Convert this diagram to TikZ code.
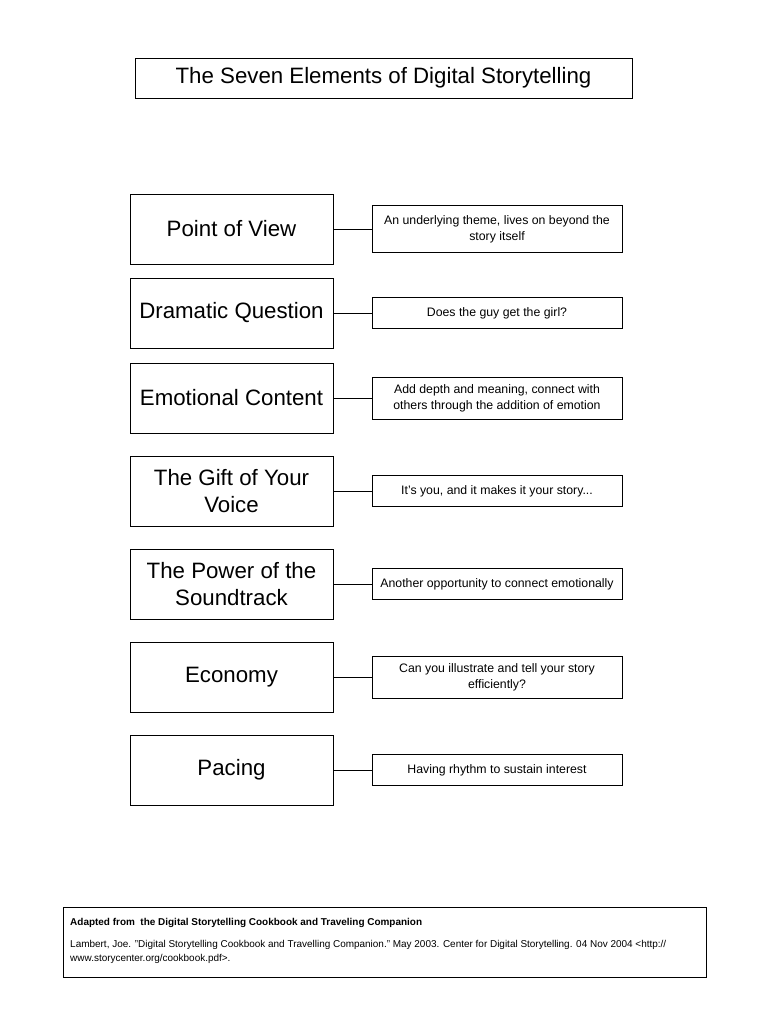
\documentclass[tikz,border=0pt]{standalone}
\usepackage{fontspec}
\setmainfont{Liberation Sans}
\usepackage{tikz}
\usetikzlibrary{shadows}

\begin{document}
\begin{tikzpicture}[
  x=0.03cm, y=-0.03cm,
  every node/.style={align=center},
  line/.style={-, line width=0.5pt},
  shade/.style={drop shadow={shadow xshift=0.8pt, shadow yshift=-0.8pt, opacity=1, fill=black!85}},
  element/.style={draw, fill=white, line width=0.7pt, shade, minimum width=6.09cm, minimum height=2.1cm, font=\fontsize{19}{23}\selectfont},
  note/.style={draw, fill=white, line width=0.5pt, minimum width=7.5cm, font=\fontsize{10.5}{13.7}\selectfont},
  heading/.style={draw, fill=white, line width=0.7pt, shade, minimum width=14.91cm, minimum height=1.2cm, font=\fontsize{19}{23}\selectfont},
]
\useasboundingbox (0,0) rectangle (768,1024);

% Title
\node[heading] (title) at (383.5,78) {The Seven Elements of Digital Storytelling};

% Element nodes (left side)
\node[element] (pov) at (231.5,229) {Point of View};
\node[element] (dq) at (231.5,313) {Dramatic Question};
\node[element] (ec) at (231.5,398) {Emotional Content};
\node[element] (gift) at (231.5,491) {The Gift of Your\\Voice};
\node[element] (sound) at (231.5,584) {The Power of the\\Soundtrack};
\node[element] (eco) at (231.5,677) {Economy};
\node[element] (pace) at (231.5,770) {Pacing};

% Description nodes (right side)
\node[note, minimum height=1.41cm] (povd) at (497,229) {An underlying theme, lives on beyond the\\story itself};
\node[note, minimum height=0.93cm] (dqd) at (497,313) {Does the guy get the girl?};
\node[note, minimum height=1.26cm] (ecd) at (497,398) {Add depth and meaning, connect with\\others through the addition of emotion};
\node[note, minimum height=0.93cm] (giftd) at (497,491) {It's you, and it makes it your story...};
\node[note, minimum height=0.93cm] (soundd) at (497,584) {Another opportunity to connect emotionally};
\node[note, minimum height=1.26cm] (ecod) at (497,677) {Can you illustrate and tell your story\\efficiently?};
\node[note, minimum height=0.93cm] (paced) at (497,770) {Having rhythm to sustain interest};

% Connectors
\draw[line] (pov.east) -- (povd.west);
\draw[line] (dq.east) -- (dqd.west);
\draw[line] (ec.east) -- (ecd.west);
\draw[line] (gift.east) -- (giftd.west);
\draw[line] (sound.east) -- (soundd.west);
\draw[line] (eco.east) -- (ecod.west);
\draw[line] (pace.east) -- (paced.west);

% Source box
\node[draw, fill=white, line width=0.6pt, shade, minimum width=19.29cm, minimum height=2.1cm] (source) at (384.5,942) {};
\node[anchor=north west, align=left, inner sep=0pt, font=\fontsize{8.5}{12}\selectfont] (cite) at (70,918)
  {\textbf{Adapted from\ \ the Digital Storytelling Cookbook and Traveling Companion}\\[7pt]
   Lambert, Joe. "Digital Storytelling Cookbook and Travelling Companion." May 2003. Center for Digital Storytelling. 04 Nov 2004 <http://\\
   www.storycenter.org/cookbook.pdf>.};

\end{tikzpicture}
\end{document}
